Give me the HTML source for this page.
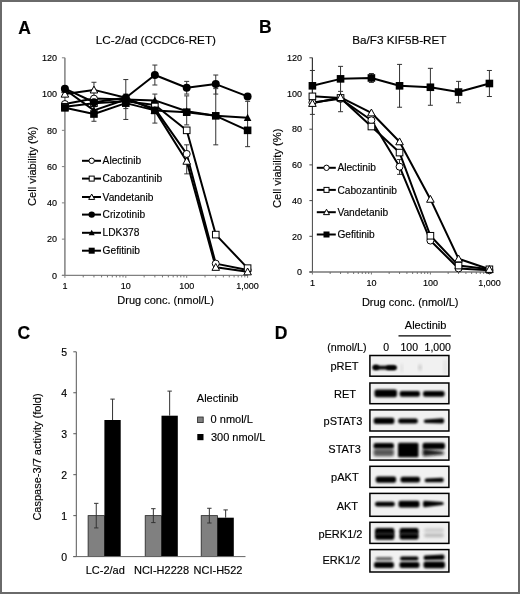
<!DOCTYPE html>
<html><head><meta charset="utf-8"><title>Figure</title>
<style>html,body{margin:0;padding:0;background:#fff;}body{width:520px;height:594px;position:relative;overflow:hidden;}#fig{position:absolute;left:0;top:0;width:520px;height:594px;}</style>
</head><body>
<div id="fig">
<svg width="520" height="594" viewBox="0 0 520 594" style="position:absolute;left:0;top:0">
<style>text{stroke:#000;stroke-width:0.15px;}</style><defs><filter id="b1" x="-20%" y="-50%" width="140%" height="200%"><feGaussianBlur stdDeviation="0.85"/></filter><filter id="b2" x="-20%" y="-80%" width="140%" height="260%"><feGaussianBlur stdDeviation="1.6"/></filter></defs>
<rect x="0" y="0" width="520" height="594" fill="#fff"/>
<rect x="1" y="1" width="518" height="592" fill="none" stroke="#6a6a6a" stroke-width="2"/>
<text x="18.3" y="33.6" font-size="17.5" font-weight="bold" font-family="Liberation Sans, Arial, sans-serif">A</text>
<text x="259" y="33.4" font-size="17.5" font-weight="bold" font-family="Liberation Sans, Arial, sans-serif">B</text>
<text x="17.6" y="338.5" font-size="17.5" font-weight="bold" font-family="Liberation Sans, Arial, sans-serif">C</text>
<text x="274.8" y="338.7" font-size="17.5" font-weight="bold" font-family="Liberation Sans, Arial, sans-serif">D</text>
<text x="95.8" y="44.3" font-size="11.7" font-family="Liberation Sans, Arial, sans-serif">LC-2/ad (CCDC6-RET)</text>
<text x="352.3" y="44.3" font-size="11.7" font-family="Liberation Sans, Arial, sans-serif">Ba/F3 KIF5B-RET</text>
<line x1="64.9" y1="57.8" x2="64.9" y2="275.4" stroke="#808080" stroke-width="1.5"/>
<line x1="61.9" y1="275.4" x2="248.1" y2="275.4" stroke="#808080" stroke-width="1.2"/>
<line x1="61.9" y1="275.4" x2="64.9" y2="275.4" stroke="#808080" stroke-width="1"/>
<text x="57" y="278.6" text-anchor="end" font-size="9" font-family="Liberation Sans, Arial, sans-serif">0</text>
<line x1="61.9" y1="239.13" x2="64.9" y2="239.13" stroke="#808080" stroke-width="1"/>
<text x="57" y="242.33" text-anchor="end" font-size="9" font-family="Liberation Sans, Arial, sans-serif">20</text>
<line x1="61.9" y1="202.87" x2="64.9" y2="202.87" stroke="#808080" stroke-width="1"/>
<text x="57" y="206.07" text-anchor="end" font-size="9" font-family="Liberation Sans, Arial, sans-serif">40</text>
<line x1="61.9" y1="166.6" x2="64.9" y2="166.6" stroke="#808080" stroke-width="1"/>
<text x="57" y="169.8" text-anchor="end" font-size="9" font-family="Liberation Sans, Arial, sans-serif">60</text>
<line x1="61.9" y1="130.34" x2="64.9" y2="130.34" stroke="#808080" stroke-width="1"/>
<text x="57" y="133.54" text-anchor="end" font-size="9" font-family="Liberation Sans, Arial, sans-serif">80</text>
<line x1="61.9" y1="94.07" x2="64.9" y2="94.07" stroke="#808080" stroke-width="1"/>
<text x="57" y="97.27" text-anchor="end" font-size="9" font-family="Liberation Sans, Arial, sans-serif">100</text>
<line x1="61.9" y1="57.8" x2="64.9" y2="57.8" stroke="#808080" stroke-width="1"/>
<text x="57" y="61" text-anchor="end" font-size="9" font-family="Liberation Sans, Arial, sans-serif">120</text>
<line x1="83.23" y1="275.4" x2="83.23" y2="277.4" stroke="#666" stroke-width="0.9"/>
<line x1="93.96" y1="275.4" x2="93.96" y2="277.4" stroke="#666" stroke-width="0.9"/>
<line x1="101.57" y1="275.4" x2="101.57" y2="277.4" stroke="#666" stroke-width="0.9"/>
<line x1="107.47" y1="275.4" x2="107.47" y2="277.4" stroke="#666" stroke-width="0.9"/>
<line x1="112.29" y1="275.4" x2="112.29" y2="277.4" stroke="#666" stroke-width="0.9"/>
<line x1="116.37" y1="275.4" x2="116.37" y2="277.4" stroke="#666" stroke-width="0.9"/>
<line x1="119.9" y1="275.4" x2="119.9" y2="277.4" stroke="#666" stroke-width="0.9"/>
<line x1="123.01" y1="275.4" x2="123.01" y2="277.4" stroke="#666" stroke-width="0.9"/>
<line x1="144.13" y1="275.4" x2="144.13" y2="277.4" stroke="#666" stroke-width="0.9"/>
<line x1="154.86" y1="275.4" x2="154.86" y2="277.4" stroke="#666" stroke-width="0.9"/>
<line x1="162.47" y1="275.4" x2="162.47" y2="277.4" stroke="#666" stroke-width="0.9"/>
<line x1="168.37" y1="275.4" x2="168.37" y2="277.4" stroke="#666" stroke-width="0.9"/>
<line x1="173.19" y1="275.4" x2="173.19" y2="277.4" stroke="#666" stroke-width="0.9"/>
<line x1="177.27" y1="275.4" x2="177.27" y2="277.4" stroke="#666" stroke-width="0.9"/>
<line x1="180.8" y1="275.4" x2="180.8" y2="277.4" stroke="#666" stroke-width="0.9"/>
<line x1="183.91" y1="275.4" x2="183.91" y2="277.4" stroke="#666" stroke-width="0.9"/>
<line x1="205.03" y1="275.4" x2="205.03" y2="277.4" stroke="#666" stroke-width="0.9"/>
<line x1="215.76" y1="275.4" x2="215.76" y2="277.4" stroke="#666" stroke-width="0.9"/>
<line x1="223.37" y1="275.4" x2="223.37" y2="277.4" stroke="#666" stroke-width="0.9"/>
<line x1="229.27" y1="275.4" x2="229.27" y2="277.4" stroke="#666" stroke-width="0.9"/>
<line x1="234.09" y1="275.4" x2="234.09" y2="277.4" stroke="#666" stroke-width="0.9"/>
<line x1="238.17" y1="275.4" x2="238.17" y2="277.4" stroke="#666" stroke-width="0.9"/>
<line x1="241.7" y1="275.4" x2="241.7" y2="277.4" stroke="#666" stroke-width="0.9"/>
<line x1="244.81" y1="275.4" x2="244.81" y2="277.4" stroke="#666" stroke-width="0.9"/>
<line x1="64.9" y1="275.4" x2="64.9" y2="277.9" stroke="#808080" stroke-width="1"/>
<text x="64.9" y="289.2" text-anchor="middle" font-size="9" font-family="Liberation Sans, Arial, sans-serif">1</text>
<line x1="125.8" y1="275.4" x2="125.8" y2="277.9" stroke="#808080" stroke-width="1"/>
<text x="125.8" y="289.2" text-anchor="middle" font-size="9" font-family="Liberation Sans, Arial, sans-serif">10</text>
<line x1="186.7" y1="275.4" x2="186.7" y2="277.9" stroke="#808080" stroke-width="1"/>
<text x="186.7" y="289.2" text-anchor="middle" font-size="9" font-family="Liberation Sans, Arial, sans-serif">100</text>
<line x1="247.6" y1="275.4" x2="247.6" y2="277.9" stroke="#808080" stroke-width="1"/>
<text x="247.6" y="289.2" text-anchor="middle" font-size="9" font-family="Liberation Sans, Arial, sans-serif">1,000</text>
<text x="117.3" y="304.2" font-size="11" font-family="Liberation Sans, Arial, sans-serif">Drug conc. (nmol/L)</text>
<text transform="translate(36.4,166.3) rotate(-90)" x="0" y="0" text-anchor="middle" font-size="11.2" font-family="Liberation Sans, Arial, sans-serif">Cell viability (%)</text>
<line x1="93.96" y1="97.7" x2="93.96" y2="82.28" stroke="#333" stroke-width="1"/>
<line x1="91.46" y1="97.7" x2="96.46" y2="97.7" stroke="#333" stroke-width="1"/>
<line x1="91.46" y1="82.28" x2="96.46" y2="82.28" stroke="#333" stroke-width="1"/>
<line x1="93.96" y1="121.27" x2="93.96" y2="106.76" stroke="#333" stroke-width="1"/>
<line x1="91.46" y1="121.27" x2="96.46" y2="121.27" stroke="#333" stroke-width="1"/>
<line x1="91.46" y1="106.76" x2="96.46" y2="106.76" stroke="#333" stroke-width="1"/>
<line x1="125.8" y1="108.58" x2="125.8" y2="79.56" stroke="#333" stroke-width="1"/>
<line x1="123.3" y1="108.58" x2="128.3" y2="108.58" stroke="#333" stroke-width="1"/>
<line x1="123.3" y1="79.56" x2="128.3" y2="79.56" stroke="#333" stroke-width="1"/>
<line x1="125.8" y1="119.46" x2="125.8" y2="94.07" stroke="#333" stroke-width="1"/>
<line x1="123.3" y1="119.46" x2="128.3" y2="119.46" stroke="#333" stroke-width="1"/>
<line x1="123.3" y1="94.07" x2="128.3" y2="94.07" stroke="#333" stroke-width="1"/>
<line x1="154.86" y1="85" x2="154.86" y2="65.06" stroke="#333" stroke-width="1"/>
<line x1="152.36" y1="85" x2="157.36" y2="85" stroke="#333" stroke-width="1"/>
<line x1="152.36" y1="65.06" x2="157.36" y2="65.06" stroke="#333" stroke-width="1"/>
<line x1="154.86" y1="123.08" x2="154.86" y2="94.07" stroke="#333" stroke-width="1"/>
<line x1="152.36" y1="123.08" x2="157.36" y2="123.08" stroke="#333" stroke-width="1"/>
<line x1="152.36" y1="94.07" x2="157.36" y2="94.07" stroke="#333" stroke-width="1"/>
<line x1="186.7" y1="94.07" x2="186.7" y2="81.38" stroke="#333" stroke-width="1"/>
<line x1="184.2" y1="94.07" x2="189.2" y2="94.07" stroke="#333" stroke-width="1"/>
<line x1="184.2" y1="81.38" x2="189.2" y2="81.38" stroke="#333" stroke-width="1"/>
<line x1="186.7" y1="124.9" x2="186.7" y2="95.88" stroke="#333" stroke-width="1"/>
<line x1="184.2" y1="124.9" x2="189.2" y2="124.9" stroke="#333" stroke-width="1"/>
<line x1="184.2" y1="95.88" x2="189.2" y2="95.88" stroke="#333" stroke-width="1"/>
<line x1="215.76" y1="94.07" x2="215.76" y2="75.03" stroke="#333" stroke-width="1"/>
<line x1="213.26" y1="94.07" x2="218.26" y2="94.07" stroke="#333" stroke-width="1"/>
<line x1="213.26" y1="75.03" x2="218.26" y2="75.03" stroke="#333" stroke-width="1"/>
<line x1="215.76" y1="144.84" x2="215.76" y2="88.63" stroke="#333" stroke-width="1"/>
<line x1="213.26" y1="144.84" x2="218.26" y2="144.84" stroke="#333" stroke-width="1"/>
<line x1="213.26" y1="88.63" x2="218.26" y2="88.63" stroke="#333" stroke-width="1"/>
<line x1="247.6" y1="146.66" x2="247.6" y2="101.32" stroke="#333" stroke-width="1"/>
<line x1="245.1" y1="146.66" x2="250.1" y2="146.66" stroke="#333" stroke-width="1"/>
<line x1="245.1" y1="101.32" x2="250.1" y2="101.32" stroke="#333" stroke-width="1"/>
<line x1="186.7" y1="162.98" x2="186.7" y2="144.84" stroke="#333" stroke-width="1"/>
<line x1="184.2" y1="162.98" x2="189.2" y2="162.98" stroke="#333" stroke-width="1"/>
<line x1="184.2" y1="144.84" x2="189.2" y2="144.84" stroke="#333" stroke-width="1"/>
<line x1="186.7" y1="173.86" x2="186.7" y2="161.16" stroke="#333" stroke-width="1"/>
<line x1="184.2" y1="173.86" x2="189.2" y2="173.86" stroke="#333" stroke-width="1"/>
<line x1="184.2" y1="161.16" x2="189.2" y2="161.16" stroke="#333" stroke-width="1"/>
<polyline points="64.9,104.04 93.96,98.6 125.8,99.51 154.86,108.58 186.7,153.91 215.76,263.61 247.6,269.96" fill="none" stroke="#000" stroke-width="2" stroke-linejoin="round"/>
<polyline points="64.9,106.76 93.96,103.14 125.8,101.32 154.86,104.95 186.7,130.34 215.76,234.6 247.6,268.15" fill="none" stroke="#000" stroke-width="2" stroke-linejoin="round"/>
<polyline points="64.9,94.07 93.96,89.9 125.8,97.7 154.86,110.39 186.7,161.16 215.76,267.24 247.6,271.77" fill="none" stroke="#000" stroke-width="2" stroke-linejoin="round"/>
<polyline points="64.9,88.63 93.96,102.23 125.8,97.7 154.86,75.03 186.7,87.72 215.76,84.1 247.6,96.43" fill="none" stroke="#000" stroke-width="2" stroke-linejoin="round"/>
<polyline points="64.9,89.54 93.96,110.39 125.8,99.51 154.86,100.42 186.7,111.3 215.76,115.83 247.6,117.64" fill="none" stroke="#000" stroke-width="2" stroke-linejoin="round"/>
<polyline points="64.9,107.85 93.96,114.02 125.8,103.14 154.86,110.39 186.7,112.2 215.76,115.83 247.6,130.34" fill="none" stroke="#000" stroke-width="2" stroke-linejoin="round"/>
<circle cx="64.9" cy="104.04" r="3.5" fill="#fff" stroke="#000" stroke-width="1"/>
<circle cx="93.96" cy="98.6" r="3.5" fill="#fff" stroke="#000" stroke-width="1"/>
<circle cx="125.8" cy="99.51" r="3.5" fill="#fff" stroke="#000" stroke-width="1"/>
<circle cx="154.86" cy="108.58" r="3.5" fill="#fff" stroke="#000" stroke-width="1"/>
<circle cx="186.7" cy="153.91" r="3.5" fill="#fff" stroke="#000" stroke-width="1"/>
<circle cx="215.76" cy="263.61" r="3.5" fill="#fff" stroke="#000" stroke-width="1"/>
<circle cx="247.6" cy="269.96" r="3.5" fill="#fff" stroke="#000" stroke-width="1"/>
<rect x="61.6" y="103.46" width="6.6" height="6.6" fill="#fff" stroke="#000" stroke-width="1"/>
<rect x="90.66" y="99.84" width="6.6" height="6.6" fill="#fff" stroke="#000" stroke-width="1"/>
<rect x="122.5" y="98.02" width="6.6" height="6.6" fill="#fff" stroke="#000" stroke-width="1"/>
<rect x="151.56" y="101.65" width="6.6" height="6.6" fill="#fff" stroke="#000" stroke-width="1"/>
<rect x="183.4" y="127.04" width="6.6" height="6.6" fill="#fff" stroke="#000" stroke-width="1"/>
<rect x="212.46" y="231.3" width="6.6" height="6.6" fill="#fff" stroke="#000" stroke-width="1"/>
<rect x="244.3" y="264.85" width="6.6" height="6.6" fill="#fff" stroke="#000" stroke-width="1"/>
<polygon points="64.9,90.31 68.7,97.15 61.1,97.15" fill="#fff" stroke="#000" stroke-width="1"/>
<polygon points="93.96,86.14 97.76,92.98 90.16,92.98" fill="#fff" stroke="#000" stroke-width="1"/>
<polygon points="125.8,93.93 129.6,100.77 122,100.77" fill="#fff" stroke="#000" stroke-width="1"/>
<polygon points="154.86,106.63 158.66,113.47 151.06,113.47" fill="#fff" stroke="#000" stroke-width="1"/>
<polygon points="186.7,157.4 190.5,164.24 182.9,164.24" fill="#fff" stroke="#000" stroke-width="1"/>
<polygon points="215.76,263.48 219.56,270.32 211.96,270.32" fill="#fff" stroke="#000" stroke-width="1"/>
<polygon points="247.6,268.01 251.4,274.85 243.8,274.85" fill="#fff" stroke="#000" stroke-width="1"/>
<circle cx="64.9" cy="88.63" r="4" fill="#000"/>
<circle cx="93.96" cy="102.23" r="4" fill="#000"/>
<circle cx="125.8" cy="97.7" r="4" fill="#000"/>
<circle cx="154.86" cy="75.03" r="4" fill="#000"/>
<circle cx="186.7" cy="87.72" r="4" fill="#000"/>
<circle cx="215.76" cy="84.1" r="4" fill="#000"/>
<circle cx="247.6" cy="96.43" r="4" fill="#000"/>
<polygon points="64.9,85.57 68.7,92.79 61.1,92.79" fill="#000"/>
<polygon points="93.96,106.42 97.76,113.64 90.16,113.64" fill="#000"/>
<polygon points="125.8,95.54 129.6,102.76 122,102.76" fill="#000"/>
<polygon points="154.86,96.45 158.66,103.67 151.06,103.67" fill="#000"/>
<polygon points="186.7,107.33 190.5,114.55 182.9,114.55" fill="#000"/>
<polygon points="215.76,111.86 219.56,119.08 211.96,119.08" fill="#000"/>
<polygon points="247.6,113.67 251.4,120.89 243.8,120.89" fill="#000"/>
<rect x="61.1" y="104.05" width="7.6" height="7.6" fill="#000"/>
<rect x="90.16" y="110.22" width="7.6" height="7.6" fill="#000"/>
<rect x="122" y="99.34" width="7.6" height="7.6" fill="#000"/>
<rect x="151.06" y="106.59" width="7.6" height="7.6" fill="#000"/>
<rect x="182.9" y="108.4" width="7.6" height="7.6" fill="#000"/>
<rect x="211.96" y="112.03" width="7.6" height="7.6" fill="#000"/>
<rect x="243.8" y="126.54" width="7.6" height="7.6" fill="#000"/>
<line x1="82" y1="160.8" x2="101" y2="160.8" stroke="#000" stroke-width="2"/>
<circle cx="91.7" cy="160.8" r="2.7" fill="#fff" stroke="#000" stroke-width="1"/>
<text x="102.6" y="164.4" font-size="10.2" font-family="Liberation Sans, Arial, sans-serif">Alectinib</text>
<line x1="82" y1="178.6" x2="101" y2="178.6" stroke="#000" stroke-width="2"/>
<rect x="89.2" y="176.1" width="5" height="5" fill="#fff" stroke="#000" stroke-width="1"/>
<text x="102.6" y="182.2" font-size="10.2" font-family="Liberation Sans, Arial, sans-serif">Cabozantinib</text>
<line x1="82" y1="197" x2="101" y2="197" stroke="#000" stroke-width="2"/>
<polygon points="91.7,194.03 94.7,199.43 88.7,199.43" fill="#fff" stroke="#000" stroke-width="1"/>
<text x="102.6" y="200.6" font-size="10.2" font-family="Liberation Sans, Arial, sans-serif">Vandetanib</text>
<line x1="82" y1="214.6" x2="101" y2="214.6" stroke="#000" stroke-width="2"/>
<circle cx="91.7" cy="214.6" r="3.2" fill="#000"/>
<text x="102.6" y="218.2" font-size="10.2" font-family="Liberation Sans, Arial, sans-serif">Crizotinib</text>
<line x1="82" y1="232.8" x2="101" y2="232.8" stroke="#000" stroke-width="2"/>
<polygon points="91.7,229.67 94.7,235.37 88.7,235.37" fill="#000"/>
<text x="102.6" y="236.4" font-size="10.2" font-family="Liberation Sans, Arial, sans-serif">LDK378</text>
<line x1="82" y1="250.7" x2="101" y2="250.7" stroke="#000" stroke-width="2"/>
<rect x="88.7" y="247.7" width="6" height="6" fill="#000"/>
<text x="102.6" y="254.3" font-size="10.2" font-family="Liberation Sans, Arial, sans-serif">Gefitinib</text>
<line x1="312.4" y1="57.8" x2="312.4" y2="272" stroke="#444" stroke-width="1"/>
<line x1="309.4" y1="272" x2="489.9" y2="272" stroke="#777" stroke-width="1.3"/>
<line x1="309.4" y1="272" x2="312.4" y2="272" stroke="#444" stroke-width="1"/>
<text x="302" y="275.2" text-anchor="end" font-size="9" font-family="Liberation Sans, Arial, sans-serif">0</text>
<line x1="309.4" y1="236.3" x2="312.4" y2="236.3" stroke="#444" stroke-width="1"/>
<text x="302" y="239.5" text-anchor="end" font-size="9" font-family="Liberation Sans, Arial, sans-serif">20</text>
<line x1="309.4" y1="200.6" x2="312.4" y2="200.6" stroke="#444" stroke-width="1"/>
<text x="302" y="203.8" text-anchor="end" font-size="9" font-family="Liberation Sans, Arial, sans-serif">40</text>
<line x1="309.4" y1="164.9" x2="312.4" y2="164.9" stroke="#444" stroke-width="1"/>
<text x="302" y="168.1" text-anchor="end" font-size="9" font-family="Liberation Sans, Arial, sans-serif">60</text>
<line x1="309.4" y1="129.2" x2="312.4" y2="129.2" stroke="#444" stroke-width="1"/>
<text x="302" y="132.4" text-anchor="end" font-size="9" font-family="Liberation Sans, Arial, sans-serif">80</text>
<line x1="309.4" y1="93.5" x2="312.4" y2="93.5" stroke="#444" stroke-width="1"/>
<text x="302" y="96.7" text-anchor="end" font-size="9" font-family="Liberation Sans, Arial, sans-serif">100</text>
<line x1="309.4" y1="57.8" x2="312.4" y2="57.8" stroke="#444" stroke-width="1"/>
<text x="302" y="61" text-anchor="end" font-size="9" font-family="Liberation Sans, Arial, sans-serif">120</text>
<line x1="330.16" y1="272" x2="330.16" y2="274" stroke="#666" stroke-width="0.9"/>
<line x1="340.55" y1="272" x2="340.55" y2="274" stroke="#666" stroke-width="0.9"/>
<line x1="347.92" y1="272" x2="347.92" y2="274" stroke="#666" stroke-width="0.9"/>
<line x1="353.64" y1="272" x2="353.64" y2="274" stroke="#666" stroke-width="0.9"/>
<line x1="358.31" y1="272" x2="358.31" y2="274" stroke="#666" stroke-width="0.9"/>
<line x1="362.26" y1="272" x2="362.26" y2="274" stroke="#666" stroke-width="0.9"/>
<line x1="365.68" y1="272" x2="365.68" y2="274" stroke="#666" stroke-width="0.9"/>
<line x1="368.7" y1="272" x2="368.7" y2="274" stroke="#666" stroke-width="0.9"/>
<line x1="389.16" y1="272" x2="389.16" y2="274" stroke="#666" stroke-width="0.9"/>
<line x1="399.55" y1="272" x2="399.55" y2="274" stroke="#666" stroke-width="0.9"/>
<line x1="406.92" y1="272" x2="406.92" y2="274" stroke="#666" stroke-width="0.9"/>
<line x1="412.64" y1="272" x2="412.64" y2="274" stroke="#666" stroke-width="0.9"/>
<line x1="417.31" y1="272" x2="417.31" y2="274" stroke="#666" stroke-width="0.9"/>
<line x1="421.26" y1="272" x2="421.26" y2="274" stroke="#666" stroke-width="0.9"/>
<line x1="424.68" y1="272" x2="424.68" y2="274" stroke="#666" stroke-width="0.9"/>
<line x1="427.7" y1="272" x2="427.7" y2="274" stroke="#666" stroke-width="0.9"/>
<line x1="448.16" y1="272" x2="448.16" y2="274" stroke="#666" stroke-width="0.9"/>
<line x1="458.55" y1="272" x2="458.55" y2="274" stroke="#666" stroke-width="0.9"/>
<line x1="465.92" y1="272" x2="465.92" y2="274" stroke="#666" stroke-width="0.9"/>
<line x1="471.64" y1="272" x2="471.64" y2="274" stroke="#666" stroke-width="0.9"/>
<line x1="476.31" y1="272" x2="476.31" y2="274" stroke="#666" stroke-width="0.9"/>
<line x1="480.26" y1="272" x2="480.26" y2="274" stroke="#666" stroke-width="0.9"/>
<line x1="483.68" y1="272" x2="483.68" y2="274" stroke="#666" stroke-width="0.9"/>
<line x1="486.7" y1="272" x2="486.7" y2="274" stroke="#666" stroke-width="0.9"/>
<line x1="312.4" y1="272" x2="312.4" y2="274.5" stroke="#777" stroke-width="1"/>
<text x="312.4" y="285.8" text-anchor="middle" font-size="9" font-family="Liberation Sans, Arial, sans-serif">1</text>
<line x1="371.4" y1="272" x2="371.4" y2="274.5" stroke="#777" stroke-width="1"/>
<text x="371.4" y="285.8" text-anchor="middle" font-size="9" font-family="Liberation Sans, Arial, sans-serif">10</text>
<line x1="430.4" y1="272" x2="430.4" y2="274.5" stroke="#777" stroke-width="1"/>
<text x="430.4" y="285.8" text-anchor="middle" font-size="9" font-family="Liberation Sans, Arial, sans-serif">100</text>
<line x1="489.4" y1="272" x2="489.4" y2="274.5" stroke="#777" stroke-width="1"/>
<text x="489.4" y="285.8" text-anchor="middle" font-size="9" font-family="Liberation Sans, Arial, sans-serif">1,000</text>
<text x="361.9" y="306.1" font-size="11" font-family="Liberation Sans, Arial, sans-serif">Drug conc. (nmol/L)</text>
<text transform="translate(281.4,168.3) rotate(-90)" x="0" y="0" text-anchor="middle" font-size="11.2" font-family="Liberation Sans, Arial, sans-serif">Cell viability (%)</text>
<line x1="312.4" y1="114.38" x2="312.4" y2="57.8" stroke="#333" stroke-width="1"/>
<line x1="309.9" y1="114.38" x2="314.9" y2="114.38" stroke="#333" stroke-width="1"/>
<line x1="340.55" y1="91.36" x2="340.55" y2="66.37" stroke="#333" stroke-width="1"/>
<line x1="338.05" y1="91.36" x2="343.05" y2="91.36" stroke="#333" stroke-width="1"/>
<line x1="338.05" y1="66.37" x2="343.05" y2="66.37" stroke="#333" stroke-width="1"/>
<line x1="371.4" y1="82.43" x2="371.4" y2="73.51" stroke="#333" stroke-width="1"/>
<line x1="368.9" y1="82.43" x2="373.9" y2="82.43" stroke="#333" stroke-width="1"/>
<line x1="368.9" y1="73.51" x2="373.9" y2="73.51" stroke="#333" stroke-width="1"/>
<line x1="399.55" y1="107.24" x2="399.55" y2="64.4" stroke="#333" stroke-width="1"/>
<line x1="397.05" y1="107.24" x2="402.05" y2="107.24" stroke="#333" stroke-width="1"/>
<line x1="397.05" y1="64.4" x2="402.05" y2="64.4" stroke="#333" stroke-width="1"/>
<line x1="430.4" y1="105.28" x2="430.4" y2="68.33" stroke="#333" stroke-width="1"/>
<line x1="427.9" y1="105.28" x2="432.9" y2="105.28" stroke="#333" stroke-width="1"/>
<line x1="427.9" y1="68.33" x2="432.9" y2="68.33" stroke="#333" stroke-width="1"/>
<line x1="458.55" y1="102.78" x2="458.55" y2="81.36" stroke="#333" stroke-width="1"/>
<line x1="456.05" y1="102.78" x2="461.05" y2="102.78" stroke="#333" stroke-width="1"/>
<line x1="456.05" y1="81.36" x2="461.05" y2="81.36" stroke="#333" stroke-width="1"/>
<line x1="489.4" y1="96.53" x2="489.4" y2="70.47" stroke="#333" stroke-width="1"/>
<line x1="486.9" y1="96.53" x2="491.9" y2="96.53" stroke="#333" stroke-width="1"/>
<line x1="486.9" y1="70.47" x2="491.9" y2="70.47" stroke="#333" stroke-width="1"/>
<line x1="312.4" y1="96.36" x2="312.4" y2="70.47" stroke="#333" stroke-width="1"/>
<line x1="309.9" y1="70.47" x2="314.9" y2="70.47" stroke="#333" stroke-width="1"/>
<line x1="340.55" y1="111.71" x2="340.55" y2="91.36" stroke="#333" stroke-width="1"/>
<line x1="338.05" y1="111.71" x2="343.05" y2="111.71" stroke="#333" stroke-width="1"/>
<line x1="399.55" y1="174.36" x2="399.55" y2="159.55" stroke="#333" stroke-width="1"/>
<line x1="397.05" y1="174.36" x2="402.05" y2="174.36" stroke="#333" stroke-width="1"/>
<line x1="397.05" y1="159.55" x2="402.05" y2="159.55" stroke="#333" stroke-width="1"/>
<polyline points="312.4,102.43 340.55,98.86 371.4,120.28 399.55,166.69 430.4,240.58 458.55,268.43 489.4,270.21" fill="none" stroke="#000" stroke-width="2" stroke-linejoin="round"/>
<polyline points="312.4,96.36 340.55,97.96 371.4,126.52 399.55,152.58 430.4,235.76 458.55,265.57 489.4,269.32" fill="none" stroke="#000" stroke-width="2" stroke-linejoin="round"/>
<polyline points="312.4,103.32 340.55,97.43 371.4,112.78 399.55,141.69 430.4,199.17 458.55,258.79 489.4,269.32" fill="none" stroke="#000" stroke-width="2" stroke-linejoin="round"/>
<polyline points="312.4,85.82 340.55,78.86 371.4,77.97 399.55,85.82 430.4,87.25 458.55,92.07 489.4,83.5" fill="none" stroke="#000" stroke-width="2" stroke-linejoin="round"/>
<circle cx="312.4" cy="102.43" r="3.5" fill="#fff" stroke="#000" stroke-width="1"/>
<circle cx="340.55" cy="98.86" r="3.5" fill="#fff" stroke="#000" stroke-width="1"/>
<circle cx="371.4" cy="120.28" r="3.5" fill="#fff" stroke="#000" stroke-width="1"/>
<circle cx="399.55" cy="166.69" r="3.5" fill="#fff" stroke="#000" stroke-width="1"/>
<circle cx="430.4" cy="240.58" r="3.5" fill="#fff" stroke="#000" stroke-width="1"/>
<circle cx="458.55" cy="268.43" r="3.5" fill="#fff" stroke="#000" stroke-width="1"/>
<circle cx="489.4" cy="270.21" r="3.5" fill="#fff" stroke="#000" stroke-width="1"/>
<rect x="309.1" y="93.06" width="6.6" height="6.6" fill="#fff" stroke="#000" stroke-width="1"/>
<rect x="337.25" y="94.66" width="6.6" height="6.6" fill="#fff" stroke="#000" stroke-width="1"/>
<rect x="368.1" y="123.22" width="6.6" height="6.6" fill="#fff" stroke="#000" stroke-width="1"/>
<rect x="396.25" y="149.28" width="6.6" height="6.6" fill="#fff" stroke="#000" stroke-width="1"/>
<rect x="427.1" y="232.46" width="6.6" height="6.6" fill="#fff" stroke="#000" stroke-width="1"/>
<rect x="455.25" y="262.27" width="6.6" height="6.6" fill="#fff" stroke="#000" stroke-width="1"/>
<rect x="486.1" y="266.02" width="6.6" height="6.6" fill="#fff" stroke="#000" stroke-width="1"/>
<polygon points="312.4,99.56 316.2,106.4 308.6,106.4" fill="#fff" stroke="#000" stroke-width="1"/>
<polygon points="340.55,93.67 344.35,100.51 336.75,100.51" fill="#fff" stroke="#000" stroke-width="1"/>
<polygon points="371.4,109.02 375.2,115.86 367.6,115.86" fill="#fff" stroke="#000" stroke-width="1"/>
<polygon points="399.55,137.93 403.35,144.77 395.75,144.77" fill="#fff" stroke="#000" stroke-width="1"/>
<polygon points="430.4,195.41 434.2,202.25 426.6,202.25" fill="#fff" stroke="#000" stroke-width="1"/>
<polygon points="458.55,255.03 462.35,261.87 454.75,261.87" fill="#fff" stroke="#000" stroke-width="1"/>
<polygon points="489.4,265.56 493.2,272.4 485.6,272.4" fill="#fff" stroke="#000" stroke-width="1"/>
<rect x="308.6" y="82.02" width="7.6" height="7.6" fill="#000"/>
<rect x="336.75" y="75.06" width="7.6" height="7.6" fill="#000"/>
<rect x="367.6" y="74.17" width="7.6" height="7.6" fill="#000"/>
<rect x="395.75" y="82.02" width="7.6" height="7.6" fill="#000"/>
<rect x="426.6" y="83.45" width="7.6" height="7.6" fill="#000"/>
<rect x="454.75" y="88.27" width="7.6" height="7.6" fill="#000"/>
<rect x="485.6" y="79.7" width="7.6" height="7.6" fill="#000"/>
<line x1="316.8" y1="167.8" x2="335.8" y2="167.8" stroke="#000" stroke-width="2"/>
<circle cx="326.5" cy="167.8" r="2.7" fill="#fff" stroke="#000" stroke-width="1"/>
<text x="337.4" y="171.4" font-size="10.2" font-family="Liberation Sans, Arial, sans-serif">Alectinib</text>
<line x1="316.8" y1="189.9" x2="335.8" y2="189.9" stroke="#000" stroke-width="2"/>
<rect x="324" y="187.4" width="5" height="5" fill="#fff" stroke="#000" stroke-width="1"/>
<text x="337.4" y="193.5" font-size="10.2" font-family="Liberation Sans, Arial, sans-serif">Cabozantinib</text>
<line x1="316.8" y1="212.2" x2="335.8" y2="212.2" stroke="#000" stroke-width="2"/>
<polygon points="326.5,209.23 329.5,214.63 323.5,214.63" fill="#fff" stroke="#000" stroke-width="1"/>
<text x="337.4" y="215.8" font-size="10.2" font-family="Liberation Sans, Arial, sans-serif">Vandetanib</text>
<line x1="316.8" y1="234.5" x2="335.8" y2="234.5" stroke="#000" stroke-width="2"/>
<rect x="323.5" y="231.5" width="6" height="6" fill="#000"/>
<text x="337.4" y="238.1" font-size="10.2" font-family="Liberation Sans, Arial, sans-serif">Gefitinib</text>
<line x1="76.3" y1="351.8" x2="76.3" y2="556.6" stroke="#555" stroke-width="1"/>
<line x1="73.3" y1="556.6" x2="76.3" y2="556.6" stroke="#555" stroke-width="1"/>
<text x="67.2" y="560.9" text-anchor="end" font-size="10.5" font-family="Liberation Sans, Arial, sans-serif">0</text>
<line x1="73.3" y1="515.64" x2="76.3" y2="515.64" stroke="#555" stroke-width="1"/>
<text x="67.2" y="519.94" text-anchor="end" font-size="10.5" font-family="Liberation Sans, Arial, sans-serif">1</text>
<line x1="73.3" y1="474.68" x2="76.3" y2="474.68" stroke="#555" stroke-width="1"/>
<text x="67.2" y="478.98" text-anchor="end" font-size="10.5" font-family="Liberation Sans, Arial, sans-serif">2</text>
<line x1="73.3" y1="433.72" x2="76.3" y2="433.72" stroke="#555" stroke-width="1"/>
<text x="67.2" y="438.02" text-anchor="end" font-size="10.5" font-family="Liberation Sans, Arial, sans-serif">3</text>
<line x1="73.3" y1="392.76" x2="76.3" y2="392.76" stroke="#555" stroke-width="1"/>
<text x="67.2" y="397.06" text-anchor="end" font-size="10.5" font-family="Liberation Sans, Arial, sans-serif">4</text>
<line x1="73.3" y1="351.8" x2="76.3" y2="351.8" stroke="#555" stroke-width="1"/>
<text x="67.2" y="356.1" text-anchor="end" font-size="10.5" font-family="Liberation Sans, Arial, sans-serif">5</text>
<rect x="88.1" y="515.64" width="16.3" height="40.96" fill="#808080" stroke="#222" stroke-width="0.8"/>
<rect x="104.4" y="420" width="16.3" height="136.6" fill="#000"/>
<line x1="96.25" y1="527.93" x2="96.25" y2="503.35" stroke="#333" stroke-width="1"/>
<line x1="94.05" y1="527.93" x2="98.45" y2="527.93" stroke="#333" stroke-width="1"/>
<line x1="94.05" y1="503.35" x2="98.45" y2="503.35" stroke="#333" stroke-width="1"/>
<line x1="112.55" y1="420" x2="112.55" y2="399.11" stroke="#333" stroke-width="1"/>
<line x1="110.35" y1="399.11" x2="114.75" y2="399.11" stroke="#333" stroke-width="1"/>
<rect x="145.2" y="515.64" width="16.3" height="40.96" fill="#808080" stroke="#222" stroke-width="0.8"/>
<rect x="161.5" y="415.7" width="16.3" height="140.9" fill="#000"/>
<line x1="153.35" y1="522.6" x2="153.35" y2="508.68" stroke="#333" stroke-width="1"/>
<line x1="151.15" y1="522.6" x2="155.55" y2="522.6" stroke="#333" stroke-width="1"/>
<line x1="151.15" y1="508.68" x2="155.55" y2="508.68" stroke="#333" stroke-width="1"/>
<line x1="169.65" y1="415.7" x2="169.65" y2="391.12" stroke="#333" stroke-width="1"/>
<line x1="167.45" y1="391.12" x2="171.85" y2="391.12" stroke="#333" stroke-width="1"/>
<rect x="201.2" y="515.64" width="16.3" height="40.96" fill="#808080" stroke="#222" stroke-width="0.8"/>
<rect x="217.5" y="517.69" width="16.3" height="38.91" fill="#000"/>
<line x1="209.35" y1="523.01" x2="209.35" y2="508.27" stroke="#333" stroke-width="1"/>
<line x1="207.15" y1="523.01" x2="211.55" y2="523.01" stroke="#333" stroke-width="1"/>
<line x1="207.15" y1="508.27" x2="211.55" y2="508.27" stroke="#333" stroke-width="1"/>
<line x1="225.65" y1="517.69" x2="225.65" y2="509.91" stroke="#333" stroke-width="1"/>
<line x1="223.45" y1="509.91" x2="227.85" y2="509.91" stroke="#333" stroke-width="1"/>
<line x1="73.3" y1="556.6" x2="245.5" y2="556.6" stroke="#666" stroke-width="1"/>
<text x="105.3" y="574.2" text-anchor="middle" font-size="11" font-family="Liberation Sans, Arial, sans-serif">LC-2/ad</text>
<text x="161.5" y="574.2" text-anchor="middle" font-size="11" font-family="Liberation Sans, Arial, sans-serif">NCI-H2228</text>
<text x="218" y="574.2" text-anchor="middle" font-size="11" font-family="Liberation Sans, Arial, sans-serif">NCI-H522</text>
<text transform="translate(41,457) rotate(-90)" text-anchor="middle" font-size="11" font-family="Liberation Sans, Arial, sans-serif">Caspase-3/7 activity (fold)</text>
<text x="196.8" y="402.3" font-size="11" font-family="Liberation Sans, Arial, sans-serif">Alectinib</text>
<rect x="197.6" y="417" width="5.6" height="5.6" fill="#808080" stroke="#222" stroke-width="0.8"/>
<text x="210.6" y="422.6" font-size="11" font-family="Liberation Sans, Arial, sans-serif">0 nmol/L</text>
<rect x="197.3" y="434" width="6.2" height="6.2" fill="#000"/>
<text x="210.9" y="440.6" font-size="11" font-family="Liberation Sans, Arial, sans-serif">300 nmol/L</text>
<text x="404.8" y="329.2" font-size="11" font-family="Liberation Sans, Arial, sans-serif">Alectinib</text>
<line x1="398.5" y1="335.8" x2="450.8" y2="335.8" stroke="#000" stroke-width="1.2"/>
<text x="327.3" y="350.5" font-size="10.7" font-family="Liberation Sans, Arial, sans-serif">(nmol/L)</text>
<text x="386.1" y="350.5" text-anchor="middle" font-size="10.5" font-family="Liberation Sans, Arial, sans-serif">0</text>
<text x="409.3" y="350.5" text-anchor="middle" font-size="10.5" font-family="Liberation Sans, Arial, sans-serif">100</text>
<text x="437.7" y="350.5" text-anchor="middle" font-size="10.5" font-family="Liberation Sans, Arial, sans-serif">1,000</text>
<rect x="369.9" y="355.5" width="79" height="20.7" fill="#f1f1f1" stroke="#000" stroke-width="1.5"/>
<text x="330.4" y="370.15" font-size="11" font-family="Liberation Sans, Arial, sans-serif">pRET</text>
<rect x="369.9" y="383" width="79" height="20.7" fill="#f1f1f1" stroke="#000" stroke-width="1.5"/>
<text x="334" y="397.65" font-size="11" font-family="Liberation Sans, Arial, sans-serif">RET</text>
<rect x="369.9" y="409.9" width="79" height="21.1" fill="#f1f1f1" stroke="#000" stroke-width="1.5"/>
<text x="323.6" y="424.75" font-size="11" font-family="Liberation Sans, Arial, sans-serif">pSTAT3</text>
<rect x="369.9" y="436.9" width="79" height="23.2" fill="#f1f1f1" stroke="#000" stroke-width="1.5"/>
<text x="328.3" y="452.8" font-size="11" font-family="Liberation Sans, Arial, sans-serif">STAT3</text>
<rect x="369.9" y="466.3" width="79" height="21.1" fill="#f1f1f1" stroke="#000" stroke-width="1.5"/>
<text x="331.1" y="481.15" font-size="11" font-family="Liberation Sans, Arial, sans-serif">pAKT</text>
<rect x="369.9" y="493.4" width="79" height="22.9" fill="#f1f1f1" stroke="#000" stroke-width="1.5"/>
<text x="336.7" y="510.2" font-size="11" font-family="Liberation Sans, Arial, sans-serif">AKT</text>
<rect x="369.9" y="522.3" width="79" height="21.1" fill="#f1f1f1" stroke="#000" stroke-width="1.5"/>
<text x="318.4" y="538.1" font-size="11" font-family="Liberation Sans, Arial, sans-serif">pERK1/2</text>
<rect x="369.9" y="549.6" width="79" height="22.4" fill="#f1f1f1" stroke="#000" stroke-width="1.5"/>
<text x="322.5" y="563.6" font-size="11" font-family="Liberation Sans, Arial, sans-serif">ERK1/2</text>
<rect x="373" y="365.66" width="23.5" height="3.89" rx="1.94" fill="#000" opacity="1" filter="url(#b1)"/>
<rect x="372.6" y="364.7" width="6.4" height="5.4" rx="2.5" fill="#000" opacity="1" filter="url(#b1)"/>
<rect x="386" y="365.43" width="10.5" height="4.54" rx="2.2" fill="#000" opacity="1" filter="url(#b1)"/>
<rect x="400.5" y="363.68" width="2.5" height="8.64" rx="2.2" fill="#bbb" opacity="0.35" filter="url(#b2)"/>
<rect x="418.5" y="364.26" width="3" height="6.48" rx="2.2" fill="#999" opacity="0.45" filter="url(#b2)"/>
<rect x="443.5" y="359.44" width="3" height="15.12" rx="2.2" fill="#ccc" opacity="0.35" filter="url(#b2)"/>
<rect x="374.5" y="389.41" width="22.5" height="7.78" rx="2.2" fill="#000" opacity="1" filter="url(#b1)"/>
<rect x="399.6" y="390.88" width="20.4" height="5.83" rx="2.2" fill="#000" opacity="1" filter="url(#b1)"/>
<rect x="423" y="390.88" width="21.6" height="5.83" rx="2.2" fill="#000" opacity="1" filter="url(#b1)"/>
<rect x="373.7" y="417.77" width="20.7" height="6.26" rx="2.2" fill="#000" opacity="1" filter="url(#b1)"/>
<rect x="398.2" y="418.52" width="19.6" height="4.97" rx="2.2" fill="#000" opacity="1" filter="url(#b1)"/>
<path d="M425.4,419.47 L442.6,418.21 Q444.2,418.21 444.2,420.8 Q444.2,423.39 442.6,423.39 L425.4,422.93 Q423.8,422.93 423.8,421.2 Q423.8,419.47 425.4,419.47 Z" fill="#000" opacity="1" filter="url(#b1)"/>
<rect x="373.5" y="442.88" width="20.5" height="5.83" rx="2.2" fill="#000" opacity="1" filter="url(#b1)"/>
<rect x="373.5" y="448.72" width="20.5" height="7.56" rx="2.2" fill="#444" opacity="0.9" filter="url(#b2)"/>
<rect x="398" y="442.66" width="20.5" height="14.69" rx="1.5" fill="#000" opacity="1" filter="url(#b1)"/>
<rect x="422.5" y="442.76" width="22.5" height="6.48" rx="2.2" fill="#000" opacity="1" filter="url(#b1)"/>
<path d="M424.1,448.72 L442.4,451.38 Q444,451.38 444,453 Q444,454.62 442.4,454.62 L424.1,456.28 Q422.5,456.28 422.5,452.5 Q422.5,448.72 424.1,448.72 Z" fill="#111" opacity="0.95" filter="url(#b2)"/>
<rect x="375.7" y="476.47" width="20.4" height="6.26" rx="2.2" fill="#000" opacity="1" filter="url(#b1)"/>
<rect x="400.5" y="476.79" width="19.5" height="5.62" rx="2.2" fill="#000" opacity="1" filter="url(#b1)"/>
<path d="M426.3,478.56 L442.1,477.73 Q443.7,477.73 443.7,480 Q443.7,482.27 442.1,482.27 L426.3,482.24 Q424.7,482.24 424.7,480.4 Q424.7,478.56 426.3,478.56 Z" fill="#000" opacity="1" filter="url(#b1)"/>
<rect x="375" y="501.82" width="19.8" height="4.75" rx="2.2" fill="#000" opacity="1" filter="url(#b1)"/>
<rect x="398.5" y="500.64" width="21" height="6.91" rx="2.2" fill="#000" opacity="1" filter="url(#b1)"/>
<path d="M424.6,500.76 L442.1,501.89 Q443.7,501.89 443.7,503.4 Q443.7,504.91 442.1,504.91 L424.6,507.24 Q423,507.24 423,504 Q423,500.76 424.6,500.76 Z" fill="#000" opacity="1" filter="url(#b1)"/>
<rect x="375" y="527.95" width="19.4" height="6.7" rx="2.2" fill="#000" opacity="1" filter="url(#b1)"/>
<rect x="375" y="533.16" width="19.4" height="6.48" rx="2.2" fill="#000" opacity="1" filter="url(#b1)"/>
<rect x="399.6" y="528.06" width="19" height="6.48" rx="2.2" fill="#000" opacity="1" filter="url(#b1)"/>
<rect x="399.6" y="533.27" width="19" height="6.26" rx="2.2" fill="#000" opacity="1" filter="url(#b1)"/>
<rect x="376" y="532.82" width="17.5" height="2.16" rx="1.08" fill="#222" opacity="1" filter="url(#b1)"/>
<rect x="400.5" y="532.82" width="17" height="2.16" rx="1.08" fill="#222" opacity="1" filter="url(#b1)"/>
<rect x="424" y="528.36" width="20" height="3.67" rx="1.84" fill="#bbb" opacity="0.7" filter="url(#b2)"/>
<rect x="424" y="533.56" width="20" height="3.67" rx="1.84" fill="#aaa" opacity="0.8" filter="url(#b2)"/>
<rect x="375.5" y="556.97" width="17" height="3.46" rx="1.73" fill="#666" opacity="1" filter="url(#b1)"/>
<rect x="374" y="561.98" width="20" height="6.05" rx="2.2" fill="#000" opacity="1" filter="url(#b1)"/>
<rect x="400" y="556.56" width="18.5" height="3.89" rx="1.94" fill="#000" opacity="1" filter="url(#b1)"/>
<rect x="399.5" y="561.98" width="20" height="6.05" rx="2.2" fill="#000" opacity="1" filter="url(#b1)"/>
<path d="M425.2,555.53 L443,554.51 Q444.6,554.51 444.6,557.1 Q444.6,559.69 443,559.69 L425.2,560.07 Q423.6,560.07 423.6,557.8 Q423.6,555.53 425.2,555.53 Z" fill="#000" opacity="1" filter="url(#b1)"/>
<rect x="423.5" y="561.45" width="21.5" height="6.7" rx="2.2" fill="#000" opacity="1" filter="url(#b1)"/>
</svg>
</div>
</body></html>
